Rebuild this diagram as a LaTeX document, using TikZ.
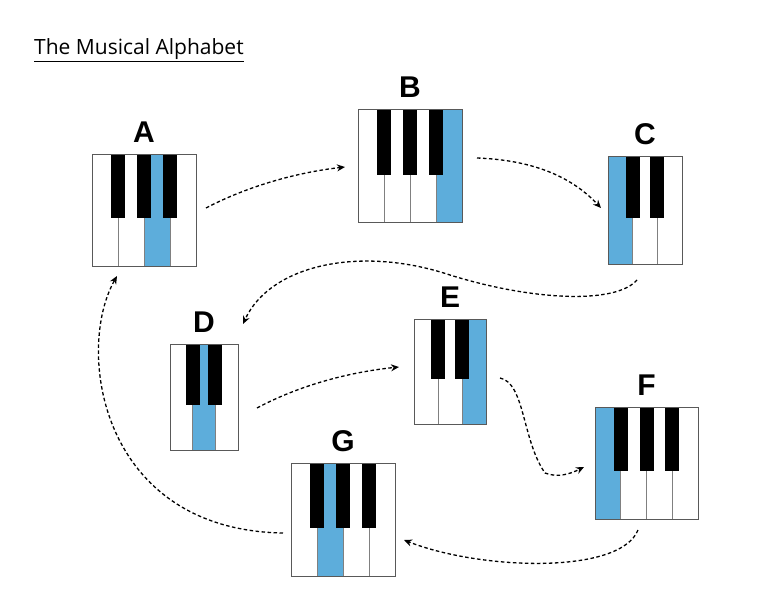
\documentclass[tikz,border=0pt]{standalone}
\usepackage{fontspec}
\setmainfont{Liberation Sans}
\newfontfamily\titlefont{Open Sans}
\usetikzlibrary{arrows.meta}
\definecolor{keyblue}{HTML}{5DADDB}
\tikzset{
  arr/.style={densely dashed,line width=1.3pt,-{Stealth[length=8pt,width=7pt]},dash pattern=on 3.5pt off 2.5pt},
  lbl/.style={font=\bfseries\fontsize{30}{30}\selectfont,inner sep=0pt},
  boxs/.style={draw=gray!70!black,line width=1.2pt,inner sep=0pt,anchor=north west}
}
% #1 name, #2 x, #3 y, #4 w, #5 h, #6 number of white keys, #7 blue key, #8 black height, #9 label
\newcommand{\kbd}[9]{%
  \pgfmathsetmacro{\kw}{#4/#6}
  \fill[keyblue] ({#2+(#7-1)*\kw},#3) rectangle ({#2+#7*\kw},{#3+#5});
  \pgfmathtruncatemacro{\nm}{#6-1}
  \foreach \i in {1,...,\nm}{\draw[gray,line width=0.8pt] ({#2+\i*\kw},#3) -- ({#2+\i*\kw},{#3+#5});}
  \foreach \i in {1,...,\nm}{\fill[black] ({#2+\i*\kw-7},#3) rectangle ({#2+\i*\kw+7},{#3+#8});}
  \node[boxs,minimum width=#4pt,minimum height=#5pt] (#1) at (#2,#3) {};
  \node[lbl] (#1l) at ({#2+#4/2},{#3-22}) {#9};
}
\begin{document}
\begin{tikzpicture}[x=1pt,y=-1pt]
\useasboundingbox (0,0) rectangle (768,594);
\node[anchor=west,inner sep=0pt,font=\titlefont\fontsize{21}{21}\selectfont] (title) at (34,50) {\underline{The Musical Alphabet}};
\kbd{A}{92}{154}{104}{112}{4}{3}{64}{A}
\kbd{B}{358}{109}{104}{113}{4}{4}{66}{B}
\kbd{C}{608}{156}{74}{108}{3}{1}{62}{C}
\kbd{D}{170}{344}{68}{106}{3}{2}{61}{D}
\kbd{E}{414}{319}{72}{105}{3}{3}{60}{E}
\kbd{F}{595}{407}{103}{112}{4}{1}{64}{F}
\kbd{G}{291}{463}{104}{113}{4}{2}{65}{G}
\coordinate (a1) at (206,208); \coordinate (b0) at (345,167);
\coordinate (b1) at (477,158); \coordinate (c0) at (601,208);
\coordinate (c1) at (637,280); \coordinate (d0) at (243,324);
\coordinate (d1) at (257,408); \coordinate (e0) at (399,367);
\coordinate (e1) at (500,378); \coordinate (f0) at (584,467);
\coordinate (f1) at (638,530); \coordinate (g0) at (404,540);
\coordinate (g1) at (283,533); \coordinate (a0) at (117,276);
\draw[arr] (a1) .. controls (250,185) and (300,172) .. (b0);
\draw[arr] (b1) .. controls (530,160) and (570,175) .. (c0);
\draw[arr] (c1) .. controls (615,305) and (530,300) .. (450,275) .. controls (360,245) and (270,265) .. (d0);
\draw[arr] (d1) .. controls (300,385) and (350,372) .. (e0);
\draw[arr] (e1) .. controls (525,383) and (522,440) .. (545,473) .. controls (558,478) and (570,474) .. (f0);
\draw[arr] (f1) .. controls (620,575) and (480,570) .. (g0);
\draw[arr] (g1) .. controls (100,530) and (75,350) .. (a0);
\end{tikzpicture}
\end{document}
